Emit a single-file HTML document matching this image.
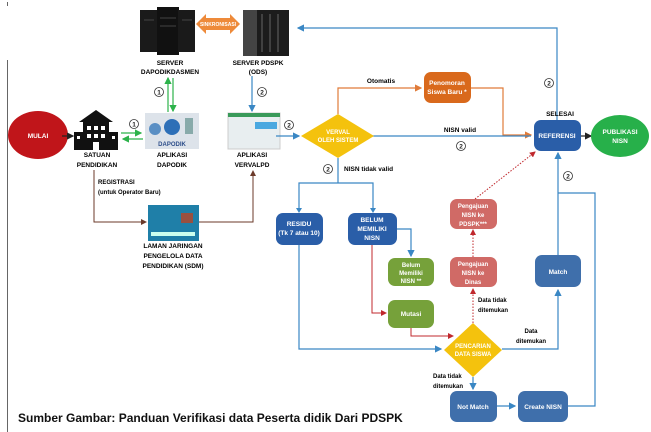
<!DOCTYPE html>
<html><head><meta charset="utf-8"><style>
html,body{margin:0;padding:0;background:#fff;width:651px;height:432px;overflow:hidden}
svg text{font-family:"Liberation Sans",sans-serif;font-weight:bold}
</style></head><body>
<svg width="651" height="432" viewBox="0 0 651 432" xmlns="http://www.w3.org/2000/svg">
<defs>
<marker id="ab" markerWidth="6" markerHeight="6" refX="5" refY="3" orient="auto"><path d="M0,0 L6,3 L0,6z" fill="#3a87c4"/></marker>
<marker id="ak" markerWidth="6" markerHeight="6" refX="5" refY="3" orient="auto"><path d="M0,0 L6,3 L0,6z" fill="#222"/></marker>
<marker id="ag" markerWidth="6" markerHeight="6" refX="5" refY="3" orient="auto"><path d="M0,0 L6,3 L0,6z" fill="#2cb24a"/></marker>
<marker id="ao" markerWidth="6" markerHeight="6" refX="5" refY="3" orient="auto"><path d="M0,0 L6,3 L0,6z" fill="#e07b39"/></marker>
<marker id="ar" markerWidth="6" markerHeight="6" refX="5" refY="3" orient="auto"><path d="M0,0 L6,3 L0,6z" fill="#c0282d"/></marker>
<marker id="abr" markerWidth="6" markerHeight="6" refX="5" refY="3" orient="auto"><path d="M0,0 L6,3 L0,6z" fill="#6b3a2a"/></marker>
</defs>
<line x1="7.5" y1="60" x2="7.5" y2="432" stroke="#666" stroke-width="1"/>
<line x1="7.5" y1="2" x2="7.5" y2="6" stroke="#666"/>

<!-- servers -->
<rect x="140" y="10" width="18" height="42" fill="#1a1a1a"/>
<rect x="157" y="7" width="22" height="48" fill="#111"/>
<rect x="178" y="10" width="17" height="42" fill="#1a1a1a"/>
<g stroke="#444" stroke-width="1"><line x1="144" y1="20" x2="154" y2="20"/><line x1="160" y1="18" x2="176" y2="18"/><line x1="160" y1="26" x2="176" y2="26"/><line x1="182" y1="20" x2="192" y2="20"/></g>
<rect x="243" y="10" width="46" height="46" fill="#1c1c1c"/>
<rect x="243" y="10" width="14" height="46" fill="#444"/>
<g stroke="#666"><line x1="262" y1="14" x2="262" y2="52"/><line x1="270" y1="14" x2="270" y2="52"/><line x1="278" y1="14" x2="278" y2="52"/></g>
<path d="M196,24 L206,14 L206,18 L230,18 L230,14 L240,24 L230,34 L230,30 L206,30 L206,34z" fill="#ee8a3a"/>
<text x="218" y="26" font-size="5" fill="#fff" text-anchor="middle">SINKRONISASI</text>
<text x="170" y="65" font-size="6.5" text-anchor="middle">SERVER</text>
<text x="170" y="74" font-size="6.5" text-anchor="middle">DAPODIKDASMEN</text>
<text x="258" y="65" font-size="6.5" text-anchor="middle">SERVER PDSPK</text>
<text x="258" y="74" font-size="6.5" text-anchor="middle">(ODS)</text>

<!-- top feedback line -->
<polyline points="557,120 557,28 298,28" fill="none" stroke="#3a87c4" stroke-width="1.2" marker-end="url(#ab)"/>

<!-- Mulai -->
<ellipse cx="38" cy="135" rx="30" ry="24" fill="#c0151a"/>
<text x="38" y="138" font-size="6.5" fill="#fff" text-anchor="middle">MULAI</text>
<line x1="62" y1="136" x2="73" y2="136" stroke="#222" stroke-width="1.2" marker-end="url(#ak)"/>
<!-- building -->
<path d="M96,110 L113,122 L79,122z" fill="#111"/>
<rect x="83" y="122" width="26" height="28" fill="#111"/>
<rect x="74" y="132" width="9" height="18" fill="#111"/>
<rect x="109" y="132" width="9" height="18" fill="#111"/>
<g fill="#fff"><rect x="87" y="126" width="4" height="4"/><rect x="94" y="126" width="4" height="4"/><rect x="101" y="126" width="4" height="4"/><rect x="87" y="134" width="4" height="4"/><rect x="94" y="134" width="4" height="4"/><rect x="101" y="134" width="4" height="4"/><rect x="77" y="136" width="3" height="3"/><rect x="112" y="136" width="3" height="3"/><rect x="93" y="142" width="6" height="8"/></g>
<text x="97" y="157" font-size="6.5" text-anchor="middle">SATUAN</text>
<text x="97" y="167" font-size="6.5" text-anchor="middle">PENDIDIKAN</text>
<line x1="121" y1="133" x2="141" y2="133" stroke="#2cb24a" stroke-width="1.2" marker-end="url(#ag)"/>
<line x1="143" y1="139" x2="123" y2="139" stroke="#2cb24a" stroke-width="1.2" marker-end="url(#ag)"/>
<!-- dapodik -->
<rect x="145" y="113" width="54" height="36" fill="#dde3ea"/>
<circle cx="172" cy="127" r="8" fill="#2d6fb7"/>
<circle cx="155" cy="129" r="6" fill="#5a8fc4"/>
<rect x="185" y="118" width="8" height="16" fill="#8aa"/>
<text x="172" y="146" font-size="6" fill="#2d4e8a" text-anchor="middle" font-weight="normal">DAPODIK</text>
<text x="172" y="157" font-size="6.5" text-anchor="middle">APLIKASI</text>
<text x="172" y="167" font-size="6.5" text-anchor="middle">DAPODIK</text>
<line x1="168" y1="112" x2="168" y2="78" stroke="#2cb24a" stroke-width="1.2" marker-end="url(#ag)"/>
<line x1="173" y1="78" x2="173" y2="111" stroke="#2cb24a" stroke-width="1.2" marker-end="url(#ag)"/>
<line x1="252" y1="76" x2="252" y2="111" stroke="#3a87c4" stroke-width="1.2" marker-end="url(#ab)"/>
<!-- vervalpd -->
<rect x="228" y="113" width="52" height="36" fill="#e8eef0" stroke="#ccc"/>
<rect x="228" y="113" width="52" height="4" fill="#3a9a5a"/>
<rect x="255" y="122" width="22" height="7" fill="#4aa8e0"/>
<text x="252" y="157" font-size="6.5" text-anchor="middle">APLIKASI</text>
<text x="252" y="167" font-size="6.5" text-anchor="middle">VERVALPD</text>
<line x1="276" y1="136" x2="299" y2="136" stroke="#3a87c4" stroke-width="1.2" marker-end="url(#ab)"/>

<!-- registrasi -->
<polyline points="94,170 94,222 146,222" fill="none" stroke="#6b3a2a" stroke-width="1" marker-end="url(#abr)"/>
<polyline points="198,222 253,222 253,171" fill="none" stroke="#6b3a2a" stroke-width="1" marker-end="url(#abr)"/>
<text x="98" y="184" font-size="6">REGISTRASI</text>
<text x="98" y="194" font-size="6">(untuk Operator Baru)</text>
<rect x="148" y="205" width="51" height="36" fill="#1f7fa8"/>
<rect x="181" y="213" width="12" height="10" fill="#9a5040"/>
<rect x="151" y="232" width="44" height="4" fill="#cfe"/>
<text x="173" y="248" font-size="6.5" text-anchor="middle">LAMAN JARINGAN</text>
<text x="173" y="258" font-size="6.5" text-anchor="middle">PENGELOLA DATA</text>
<text x="173" y="268" font-size="6.5" text-anchor="middle">PENDIDIKAN (SDM)</text>

<!-- Verval diamond -->
<polyline points="338,114 338,88 421,88" fill="none" stroke="#e07b39" stroke-width="1.2" marker-end="url(#ao)"/>
<text x="381" y="83" font-size="6.5" text-anchor="middle">Otomatis</text>
<rect x="424" y="72" width="47" height="31" rx="7" fill="#d9691c"/>
<text x="447" y="85" font-size="6.5" fill="#fff" text-anchor="middle" font-weight="normal">Penomoran</text>
<text x="447" y="94" font-size="6.5" fill="#fff" text-anchor="middle" font-weight="normal">Siswa Baru *</text>
<polyline points="471,88 503,88 503,135 531,135" fill="none" stroke="#e07b39" stroke-width="1.2" marker-end="url(#ao)"/>
<line x1="372" y1="136" x2="531" y2="136" stroke="#3a87c4" stroke-width="1.2"/>
<text x="460" y="132" font-size="6.5" text-anchor="middle">NISN valid</text>
<path d="M338,114 L374,136 L338,158 L301,136z" fill="#f4c20d"/>
<text x="338" y="134" font-size="6" fill="#fff" text-anchor="middle" font-weight="normal">VERVAL</text>
<text x="338" y="142" font-size="6" fill="#fff" text-anchor="middle" font-weight="normal">OLEH SISTEM</text>

<rect x="534" y="120" width="47" height="31" rx="7" fill="#2a5ea8"/>
<text x="557" y="138" font-size="6.5" fill="#fff" text-anchor="middle">REFERENSI</text>
<text x="560" y="116" font-size="6.5" text-anchor="middle">SELESAI</text>
<line x1="581" y1="136" x2="591" y2="136" stroke="#222" stroke-width="1.2" marker-end="url(#ak)"/>
<ellipse cx="620" cy="136" rx="29" ry="21" fill="#27b04a"/>
<text x="620" y="134" font-size="6.5" fill="#fff" text-anchor="middle" font-weight="normal">PUBLIKASI</text>
<text x="620" y="143" font-size="6.5" fill="#fff" text-anchor="middle" font-weight="normal">NISN</text>

<!-- NISN tidak valid -->
<text x="344" y="171" font-size="6.5">NISN tidak valid</text>
<polyline points="338,158 338,183" fill="none" stroke="#3a87c4" stroke-width="1.2"/>
<polyline points="299,211 299,183 373,183 373,211" fill="none" stroke="#3a87c4" stroke-width="1.2"/>
<path d="M296,208 L299,213 L302,208z M370,208 L373,213 L376,208z" fill="#3a87c4"/>
<rect x="276" y="213" width="47" height="32" rx="7" fill="#2a5ea8"/>
<text x="299" y="226" font-size="6.5" fill="#fff" text-anchor="middle">RESIDU</text>
<text x="299" y="235" font-size="6.5" fill="#fff" text-anchor="middle">(Tk 7 atau 10)</text>
<rect x="348" y="213" width="49" height="32" rx="7" fill="#2a5ea8"/>
<text x="372" y="222" font-size="6.5" fill="#fff" text-anchor="middle">BELUM</text>
<text x="372" y="231" font-size="6.5" fill="#fff" text-anchor="middle">MEMILIKI</text>
<text x="372" y="240" font-size="6.5" fill="#fff" text-anchor="middle">NISN</text>
<polyline points="397,229 411,229 411,256" fill="none" stroke="#3a87c4" stroke-width="1.2" marker-end="url(#ab)"/>
<rect x="388" y="258" width="46" height="28" rx="7" fill="#76a13a"/>
<text x="411" y="267" font-size="6" fill="#fff" text-anchor="middle" font-weight="normal">Belum</text>
<text x="411" y="275" font-size="6" fill="#fff" text-anchor="middle" font-weight="normal">Memiliki</text>
<text x="411" y="283" font-size="6" fill="#fff" text-anchor="middle" font-weight="normal">NISN **</text>
<polyline points="372,245 372,313 386,313" fill="none" stroke="#c0282d" stroke-width="1" marker-end="url(#ar)"/>
<rect x="388" y="300" width="46" height="28" rx="7" fill="#76a13a"/>
<text x="411" y="316" font-size="6.5" fill="#fff" text-anchor="middle" font-weight="normal">Mutasi</text>
<polyline points="411,328 411,336 453,336" fill="none" stroke="#c0282d" stroke-width="1" marker-end="url(#ar)"/>
<polyline points="299,245 299,349 441,349" fill="none" stroke="#3a87c4" stroke-width="1.2" marker-end="url(#ab)"/>

<!-- Pencarian -->
<line x1="473" y1="323" x2="473" y2="289" stroke="#c0282d" stroke-width="1" stroke-dasharray="1.5,1.5" marker-end="url(#ar)"/>
<text x="478" y="302" font-size="6">Data tidak</text>
<text x="478" y="312" font-size="6">ditemukan</text>
<rect x="450" y="257" width="47" height="30" rx="7" fill="#d06a66"/>
<text x="473" y="266" font-size="6" fill="#fff" text-anchor="middle" font-weight="normal">Pengajuan</text>
<text x="473" y="275" font-size="6" fill="#fff" text-anchor="middle" font-weight="normal">NISN ke</text>
<text x="473" y="284" font-size="6" fill="#fff" text-anchor="middle" font-weight="normal">Dinas</text>
<line x1="473" y1="257" x2="473" y2="230" stroke="#c0282d" stroke-width="1" stroke-dasharray="1.5,1.5" marker-end="url(#ar)"/>
<rect x="450" y="199" width="47" height="30" rx="7" fill="#d06a66"/>
<text x="473" y="208" font-size="6" fill="#fff" text-anchor="middle" font-weight="normal">Pengajuan</text>
<text x="473" y="217" font-size="6" fill="#fff" text-anchor="middle" font-weight="normal">NISN ke</text>
<text x="473" y="226" font-size="6" fill="#fff" text-anchor="middle" font-weight="normal">PDSPK***</text>
<line x1="475" y1="199" x2="535" y2="152" stroke="#c0282d" stroke-width="1" stroke-dasharray="1.5,1.5" marker-end="url(#ar)"/>

<path d="M473,323 L502,350 L473,377 L444,350z" fill="#f4c20d"/>
<text x="473" y="348" font-size="6" fill="#fff" text-anchor="middle" font-weight="normal">PENCARIAN</text>
<text x="473" y="356" font-size="6" fill="#fff" text-anchor="middle" font-weight="normal">DATA SISWA</text>
<polyline points="502,349 558,349 558,290" fill="none" stroke="#3a87c4" stroke-width="1.2" marker-end="url(#ab)"/>
<text x="531" y="333" font-size="6" text-anchor="middle">Data</text>
<text x="531" y="343" font-size="6" text-anchor="middle">ditemukan</text>
<rect x="535" y="255" width="46" height="32" rx="7" fill="#3f6fab"/>
<text x="558" y="274" font-size="6.5" fill="#fff" text-anchor="middle">Match</text>
<polyline points="558,255 558,153" fill="none" stroke="#3a87c4" stroke-width="1.2" marker-end="url(#ab)"/>
<polyline points="558,193 595,193 595,406 568,406" fill="none" stroke="#3a87c4" stroke-width="1.2"/>
<line x1="473" y1="377" x2="473" y2="389" stroke="#3a87c4" stroke-width="1.2" marker-end="url(#ab)"/>
<text x="433" y="378" font-size="6">Data tidak</text>
<text x="433" y="388" font-size="6">ditemukan</text>
<rect x="450" y="391" width="47" height="31" rx="7" fill="#3f6fab"/>
<text x="473" y="409" font-size="6.5" fill="#fff" text-anchor="middle">Not Match</text>
<line x1="497" y1="406" x2="515" y2="406" stroke="#3a87c4" stroke-width="1.2" marker-end="url(#ab)"/>
<rect x="518" y="391" width="50" height="31" rx="7" fill="#3f6fab"/>
<text x="543" y="409" font-size="6.5" fill="#fff" text-anchor="middle">Create NISN</text>

<!-- circled numbers -->
<g font-size="6.5" text-anchor="middle" fill="#222">
<g fill="none" stroke="#333" stroke-width="0.8">
<circle cx="134" cy="124" r="4.5"/><circle cx="159" cy="92" r="4.5"/><circle cx="262" cy="92" r="4.5"/><circle cx="289" cy="125" r="4.5"/><circle cx="328" cy="169" r="4.5"/><circle cx="461" cy="146" r="4.5"/><circle cx="549" cy="83" r="4.5"/><circle cx="568" cy="176" r="4.5"/></g>
<text x="134" y="126.5">1</text><text x="159" y="94.5">1</text><text x="262" y="94.5">2</text><text x="289" y="127.5">2</text><text x="328" y="171.5">2</text><text x="461" y="148.5">2</text><text x="549" y="85.5">2</text><text x="568" y="178.5">2</text>
</g>

<text x="18" y="422" font-size="12" fill="#111">Sumber Gambar: Panduan Verifikasi data Peserta didik Dari PDSPK</text>
</svg>
</body></html>
